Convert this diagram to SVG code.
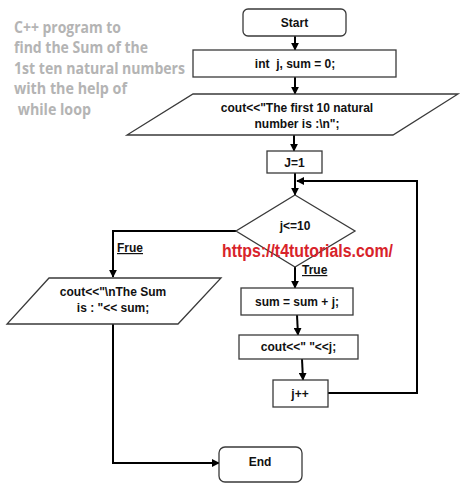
<svg xmlns="http://www.w3.org/2000/svg" width="474" height="491" viewBox="0 0 474 491">
<style>
.shape{fill:#fff;stroke:#3a3a3a;stroke-width:1.3}
.t{font-family:"Liberation Sans",Arial,sans-serif;font-weight:bold;font-size:12px;fill:#111;text-anchor:middle}
.lbl{font-family:"Liberation Sans",Arial,sans-serif;font-weight:bold;font-size:12px;fill:#111;text-decoration:underline}
.title{font-family:"Open Sans","Liberation Sans",sans-serif;font-weight:bold;font-size:16px;fill:#b4b4b4}
.conn{fill:none;stroke:#000;stroke-width:2}
.wm{font-family:"Liberation Sans",Arial,sans-serif;font-weight:bold;font-size:18px;fill:#d8232a}
</style>
<defs>
<marker id="ah" viewBox="0 0 10 10" refX="9" refY="5" markerWidth="4" markerHeight="4" orient="auto" markerUnits="strokeWidth">
<path d="M0,0 L10,5 L0,10 z" fill="#000"/>
</marker>
</defs>
<rect width="474" height="491" fill="#fff"/>
<g id="title">
<text class="title" x="14" y="33" textLength="107" lengthAdjust="spacingAndGlyphs">C++ program to</text>
<text class="title" x="14" y="53" textLength="134" lengthAdjust="spacingAndGlyphs">find the Sum of the</text>
<text class="title" x="14" y="74" textLength="171" lengthAdjust="spacingAndGlyphs">1st ten natural numbers</text>
<text class="title" x="14" y="94" textLength="113" lengthAdjust="spacingAndGlyphs">with the help of</text>
<text class="title" x="14" y="115" xml:space="preserve" textLength="77" lengthAdjust="spacingAndGlyphs"> while loop</text>
</g>
<g id="connectors">
<line class="conn" x1="295" y1="36" x2="295" y2="50" marker-end="url(#ah)"/>
<line class="conn" x1="295" y1="77" x2="295" y2="94" marker-end="url(#ah)"/>
<line class="conn" x1="294" y1="135" x2="294" y2="151" marker-end="url(#ah)"/>
<line class="conn" x1="295" y1="173" x2="295" y2="195" marker-end="url(#ah)"/>
<polyline class="conn" points="328,393 417,393 417,181 297,181" marker-end="url(#ah)"/>
<polyline class="conn" points="236,231 113,231 113,277" marker-end="url(#ah)"/>
<line class="conn" x1="295" y1="267" x2="295" y2="288" marker-end="url(#ah)"/>
<line class="conn" x1="297" y1="315" x2="298" y2="335" marker-end="url(#ah)"/>
<line class="conn" x1="302" y1="359" x2="303" y2="380" marker-end="url(#ah)"/>
<polyline class="conn" points="113,324 113,463 219,463" marker-end="url(#ah)"/>
</g>
<g id="start">
<rect class="shape" x="243" y="9" width="103" height="27" rx="5"/>
<text class="t" x="294.5" y="27">Start</text>
</g>
<g id="init">
<rect class="shape" x="193" y="50" width="203" height="27"/>
<text class="t" x="295" y="68" xml:space="preserve">int  j, sum = 0;</text>
</g>
<g id="print1">
<polygon class="shape" points="193,94 458,94 393,135 127,135"/>
<text class="t" x="297" y="112">cout&lt;&lt;"The first 10 natural</text>
<text class="t" x="297" y="128">number is :\n";</text>
</g>
<g id="jinit">
<rect class="shape" x="267" y="151" width="55" height="22"/>
<text class="t" x="294.5" y="167">J=1</text>
</g>
<g id="cond">
<polygon class="shape" points="295,195 355,231 295,267 236,231"/>
<text class="t" x="295" y="230">j&lt;=10</text>
</g>
<g id="labels">
<text class="lbl" x="117" y="252">Frue</text>
<text class="lbl" x="302" y="274">True</text>
</g>
<g id="printsum">
<polygon class="shape" points="49,278 221,278 178,324 7,324"/>
<text class="t" x="113" y="296">cout&lt;&lt;"\nThe Sum</text>
<text class="t" x="113" y="312">is : "&lt;&lt; sum;</text>
</g>
<g id="sum">
<rect class="shape" x="241" y="288" width="112" height="27"/>
<text class="t" x="297" y="306">sum = sum + j;</text>
</g>
<g id="coutj">
<rect class="shape" x="239" y="335" width="119" height="24"/>
<text class="t" x="298.5" y="351">cout&lt;&lt;" "&lt;&lt;j;</text>
</g>
<g id="inc">
<rect class="shape" x="273" y="380" width="55" height="27"/>
<text class="t" x="300" y="398">j++</text>
</g>
<g id="end">
<rect class="shape" x="219" y="447" width="83" height="35" rx="6"/>
<text class="t" x="260" y="466">End</text>
</g>
<g id="watermark">
<text class="wm" x="222" y="257" textLength="171" lengthAdjust="spacingAndGlyphs">https://t4tutorials.com/</text>
</g>
</svg>
